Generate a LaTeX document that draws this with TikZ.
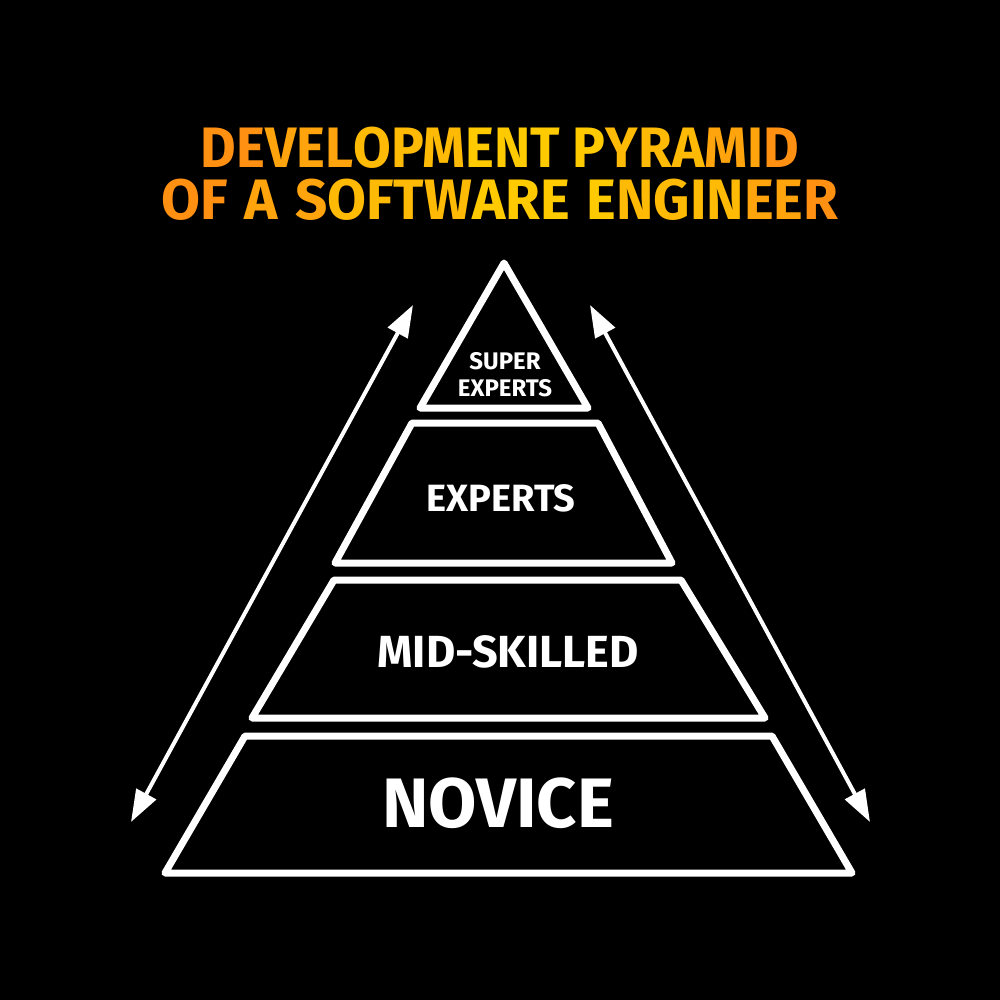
\documentclass[tikz,border=0pt]{standalone}
\usepackage{fontspec}
\setmainfont{Fira Sans}
\usepackage{tikz}
\usetikzlibrary{arrows.meta}
\definecolor{titleA}{HTML}{FF9012}
\definecolor{titleB}{HTML}{FFA40C}
\definecolor{titleC}{HTML}{FFBA06}
\definecolor{titleD}{HTML}{FFCB00}
\newcommand{\tc}[2]{\textcolor{#1}{#2}}
\newcommand{\drawtier}[6]{
  % one tier of the pyramid, a trapezoid
  % parameter 1,2: left and right x of the top edge
  % parameter 3: y of the top edge
  % parameter 4,5: left and right x of the bottom edge
  % parameter 6: y of the bottom edge
  \draw[tierline] (#1,#3) -- (#2,#3) -- (#5,#6) -- (#4,#6) -- cycle;
}

\begin{document}
\begin{tikzpicture}[x=1pt,y=-1pt,
    tierline/.style={white, line width=7pt, line join=round},
    tierlabel/.style={white, font=\bfseries\fontsize{#1}{#1}\selectfont, inner sep=0pt, align=center},
    titletext/.style={font=\bfseries\fontsize{57}{57}\selectfont, inner sep=0pt},
    scalearrow/.style={white, line width=4pt,
      {Triangle[length=32pt,width=22pt]}-{Triangle[length=32pt,width=22pt]}}]

  \fill[black] (0,0) rectangle (1000,1000);

  % title
  \node[titletext] (title1) at (500,148) {\scalebox{0.96}[1]{\tc{titleA}{DE}\tc{titleB}{VEL}\tc{titleC}{OPM}\tc{titleD}{ENT}\ \tc{titleD}{P}\tc{titleC}{YRA}\tc{titleB}{MI}\tc{titleA}{D}}};
  \node[titletext] (title2) at (500,200) {\scalebox{0.99}[1]{\tc{titleA}{OF}\hspace{0.3em}\tc{titleB}{A}\hspace{0.3em}\tc{titleB}{S}\tc{titleC}{OFTW}\tc{titleD}{ARE}\hspace{0.3em}\tc{titleD}{E}\tc{titleC}{NGIN}\tc{titleB}{EE}\tc{titleA}{R}}};

  % pyramid
  \draw[tierline] (420,408) -- (504,263) -- (588,408) -- cycle;
  \drawtier{412}{598}{423}{335}{672}{563}
  \drawtier{334}{681}{580}{252}{765}{718}
  \drawtier{245}{772}{736}{165}{852}{873}

  \node[tierlabel=24] (superexp) at (505,375) {SUPER\\[3pt]EXPERTS};
  \node[tierlabel=38] (experts) at (501,498) {EXPERTS};
  \node[tierlabel=45] (midskill) at (508,652) {MID-SKILLED};
  \node[tierlabel=70] (novice) at (498,803) {NOVICE};

  % side arrows
  \coordinate (ltop) at (413,305);
  \coordinate (lbot) at (131,822);
  \coordinate (rtop) at (590,305);
  \coordinate (rbot) at (870,822);
  \draw[scalearrow] (lbot) -- (ltop);
  \draw[scalearrow] (rbot) -- (rtop);
\end{tikzpicture}
\end{document}
